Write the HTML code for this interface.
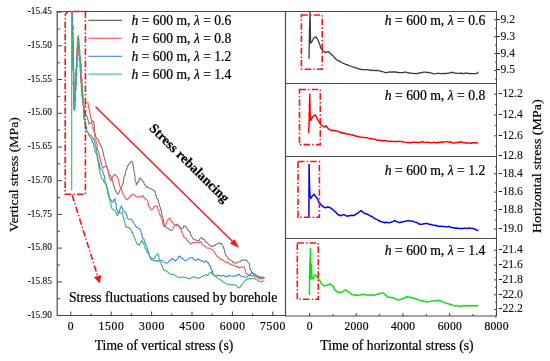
<!DOCTYPE html>
<html><head><meta charset="utf-8"><style>html,body{margin:0;padding:0;background:#fff;}svg{display:block;}</style></head><body>
<svg width="550" height="361" viewBox="0 0 550 361" font-family="Liberation Serif, serif">
<style>text{stroke:#000;stroke-width:0.22px;fill:#000}text.ty{stroke-width:0.12px;fill:#111}text.tx{stroke-width:0.2px}</style>
<rect width="550" height="361" fill="#fff"/>
<path d="M57.2 11.5 H285.5 M57.2 11 V316 M57 315.5 H285.5 M285.5 11.5 V316" fill="none" stroke="#4a4a4a" stroke-width="1.2"/>
<rect x="285.5" y="11.5" width="211.0" height="72.0" fill="none" stroke="#4a4a4a" stroke-width="1"/>
<rect x="285.5" y="83.5" width="211.0" height="73.0" fill="none" stroke="#4a4a4a" stroke-width="1"/>
<rect x="285.5" y="156.5" width="211.0" height="82.0" fill="none" stroke="#4a4a4a" stroke-width="1"/>
<rect x="285.5" y="238.5" width="211.0" height="77.5" fill="none" stroke="#4a4a4a" stroke-width="1"/>
<path d="M57.5 12.1h4.5 M57.5 29.0h2.5 M57.5 45.8h4.5 M57.5 62.7h2.5 M57.5 79.5h4.5 M57.5 96.4h2.5 M57.5 113.3h4.5 M57.5 130.1h2.5 M57.5 147.0h4.5 M57.5 163.8h2.5 M57.5 180.7h4.5 M57.5 197.6h2.5 M57.5 214.4h4.5 M57.5 231.3h2.5 M57.5 248.1h4.5 M57.5 265.0h2.5 M57.5 281.9h4.5 M57.5 298.7h2.5 M57.5 315.6h4.5 M70.8 315.5v-4 M91.0 315.5v-2 M111.2 315.5v-4 M131.4 315.5v-2 M151.6 315.5v-4 M171.8 315.5v-2 M192.0 315.5v-4 M212.2 315.5v-2 M232.4 315.5v-4 M252.6 315.5v-2 M272.8 315.5v-4 M309.6 316v-3 M332.9 316v-2 M356.3 316v-3 M379.6 316v-2 M402.9 316v-3 M426.3 316v-2 M449.6 316v-3 M472.9 316v-2 M496.3 316v-3 M496.5 19.8h-2.5 M496.5 28.3h-1.5 M496.5 36.8h-2.5 M496.5 45.2h-1.5 M496.5 53.7h-2.5 M496.5 62.2h-1.5 M496.5 70.6h-2.5 M496.5 79.1h-1.5 M496.5 94.3h-2.5 M496.5 104.7h-1.5 M496.5 115.0h-2.5 M496.5 125.4h-1.5 M496.5 135.8h-2.5 M496.5 146.2h-1.5 M496.5 156.6h-2.5 M496.5 166.9h-1.5 M496.5 173.8h-2.5 M496.5 183.0h-1.5 M496.5 192.2h-2.5 M496.5 201.4h-1.5 M496.5 210.6h-2.5 M496.5 219.8h-1.5 M496.5 229.0h-2.5 M496.5 238.2h-1.5 M496.5 250.2h-2.5 M496.5 257.6h-1.5 M496.5 265.1h-2.5 M496.5 272.5h-1.5 M496.5 279.9h-2.5 M496.5 287.3h-1.5 M496.5 294.8h-2.5 M496.5 302.2h-1.5 M496.5 309.6h-2.5 M496.5 317.0h-1.5" stroke="#444" stroke-width="1" fill="none"/>
<defs><clipPath id="cl"><rect x="57.5" y="11.5" width="228" height="304"/></clipPath><clipPath id="c1"><rect x="285.5" y="11.5" width="211" height="72"/></clipPath></defs>
<g fill="none" stroke-linejoin="round" stroke-linecap="round" clip-path="url(#cl)">
<path d="M72.2 11.5 72.6 14.2 71.9 14.4 72.6 17.7 72.2 19.3 72.5 21.0 72.2 22.8 72.4 24.4 73.0 26.8 72.7 29.1 72.5 30.1 72.3 31.2 72.6 33.8 73.2 35.5 72.9 37.7 72.5 39.0 72.6 41.0 73.4 43.2 72.7 45.4 73.3 47.7 73.5 49.2 73.4 51.1 73.6 52.3 73.0 55.2 73.5 56.7 73.4 58.1 73.4 60.0 74.1 100.0 74.5 110.0 75.0 108.1 75.0 106.3 75.1 104.1 74.8 103.2 75.3 100.8 75.0 99.2 75.0 96.4 74.9 95.4 75.1 93.9 75.3 92.1 75.7 90.3 75.6 87.6 75.8 86.0 75.5 83.5 76.3 82.0 75.6 80.3 76.3 78.8 75.9 77.1 75.9 75.0 76.1 72.9 76.8 70.3 76.6 68.2 76.4 67.7 77.1 64.7 77.0 63.2 76.8 60.6 77.2 59.0 77.5 57.0 77.4 55.0 77.1 53.1 77.1 52.7 77.6 49.7 77.1 48.2 77.3 47.4 77.6 43.8 78.0 43.0 77.8 40.2 78.0 38.2 78.3 37.6 78.2 35.3 78.6 37.8 78.7 39.5 78.4 40.5 78.6 42.6 78.9 43.4 78.7 46.6 79.1 47.8 79.0 49.4 79.3 52.0 79.6 53.1 79.8 53.8 79.5 55.8 79.8 57.4 80.2 60.0 80.4 61.1 80.9 63.8 81.0 66.4 80.7 67.0 80.9 68.9 81.2 71.5 80.9 73.5 81.2 74.9 80.9 76.0 81.1 78.6 81.3 81.0 81.4 81.8 81.6 83.9 81.9 86.3 82.2 87.8 82.2 90.0 82.7 91.3 82.7 94.4 82.7 95.3 82.4 97.3 83.0 98.9 82.8 100.2 83.2 103.1 83.9 104.4 83.5 106.4 83.8 108.0 83.9 110.4 84.5 110.1 84.4 111.8 84.8 114.0 85.8 115.5 86.5 115.8 87.0 116.3 87.5 118.4 88.0 120.0 88.4 120.8 88.5 121.9 89.0 124.0 90.6 123.0 92.2 121.7 93.1 120.8 93.7 121.4 94.0 123.0 94.3 125.0 94.8 133.0 95.3 134.5 95.8 136.8 96.5 138.0 97.0 138.8 98.5 140.2 99.0 142.4 100.2 144.0 100.2 145.5 101.4 146.5 102.2 148.5 102.5 150.0 102.9 152.1 103.3 153.0 103.5 155.5 104.1 156.6 104.5 158.3 105.2 160.8 105.7 162.4 105.8 163.3 106.1 164.6 106.7 166.6 107.5 168.3 108.1 169.8 108.4 172.4 108.3 173.8 109.1 174.9 110.4 175.5 110.8 176.6 111.3 177.3 111.5 178.6 112.4 180.7 113.3 182.9 112.9 183.9 113.4 184.7 114.1 186.5 114.8 188.5 115.3 189.7 115.8 191.5 116.6 192.1 117.4 194.0 118.5 194.0 119.1 192.4 119.9 190.0 120.7 189.0 121.0 188.0 121.8 187.0 122.4 184.9 122.7 183.6 123.5 182.4 123.4 180.0 124.1 178.2 124.1 176.4 125.2 175.1 125.3 172.7 125.7 171.6 126.0 170.1 126.9 169.1 127.0 167.6 127.4 165.8 128.1 165.6 129.1 163.8 130.0 163.2 130.7 161.8 131.8 161.2 132.6 162.5 133.1 164.4 133.2 164.9 133.4 166.7 133.5 168.3 133.9 170.8 133.9 170.7 134.5 173.6 134.7 175.2 135.1 175.7 134.9 178.2 135.3 180.3 135.9 182.3 136.2 182.5 136.2 184.9 136.8 184.1 137.9 182.4 138.5 181.4 139.2 179.0 139.5 178.2 140.6 178.4 141.5 179.9 142.3 180.6 143.5 181.6 144.1 183.4 144.8 184.9 146.1 185.7 146.5 187.5 147.3 187.0 149.0 188.0 150.6 188.5 151.5 189.0 152.6 189.8 153.3 190.0 154.3 190.8 155.0 191.6 155.2 193.0 155.4 195.0 156.4 195.9 156.6 198.3 157.7 198.9 158.3 200.7 158.6 202.7 159.4 204.0 159.2 205.8 160.0 206.6 160.3 207.4 160.6 209.4 161.3 210.1 161.6 212.4 161.8 214.9 162.1 215.8 162.9 217.2 162.9 219.0 163.4 220.3 163.7 222.3 164.1 224.0 164.6 226.0 165.8 226.5 166.4 227.9 167.4 228.2 169.1 229.0 170.2 230.1 170.7 230.6 172.4 229.8 173.2 228.4 174.1 226.5 174.5 226.3 175.7 224.8 177.4 224.0 178.2 225.1 179.1 225.7 180.2 227.4 180.7 229.0 182.4 228.2 183.3 227.5 184.0 225.7 185.7 226.5 186.3 227.4 187.4 229.0 188.0 230.2 189.0 231.5 190.0 232.3 190.4 233.1 190.7 235.0 191.6 236.2 192.3 237.5 193.7 239.3 194.8 239.7 196.3 240.1 197.9 240.7 199.3 240.3 200.0 238.4 201.1 237.8 201.9 237.4 202.7 239.2 203.9 239.4 204.6 240.1 205.8 242.3 207.3 242.7 208.3 244.0 209.7 245.2 210.8 246.1 212.4 246.4 213.6 246.2 215.3 245.0 216.5 244.2 218.3 243.3 219.4 242.9 220.4 243.9 221.3 243.3 222.4 244.9 222.9 246.3 223.3 247.1 224.2 249.5 224.7 251.0 224.8 251.8 225.2 253.9 226.0 255.7 227.1 256.8 227.8 257.6 228.9 259.6 230.0 259.7 231.3 260.6 232.3 261.1 232.9 262.6 234.0 262.4 235.9 263.6 237.2 262.4 238.8 261.7 240.6 261.5 241.7 259.7 243.1 260.2 244.6 259.7 245.8 260.3 247.5 260.7 248.0 262.6 248.9 262.9 249.4 264.6 249.6 265.4 249.7 268.3 250.2 268.3 250.8 270.4 251.3 271.1 251.9 272.7 253.0 273.3 254.3 274.7 255.5 275.0 257.2 276.2 258.5 276.9 260.1 277.2 261.8 277.2 263.0 277.6 264.0 278.1" stroke="#777" stroke-width="1.1"/>
<path d="M72.2 11.5 72.3 12.9 72.4 15.0 71.9 17.3 72.7 18.1 72.2 20.4 72.4 23.6 72.4 25.2 72.2 26.7 72.9 28.5 72.8 30.2 72.2 32.3 72.7 34.3 72.3 35.4 72.7 38.3 73.1 39.9 73.2 41.7 73.1 43.0 73.3 45.0 72.6 47.6 72.7 48.2 73.0 51.5 72.9 52.8 73.0 54.4 73.2 56.0 73.5 58.3 73.2 60.0 73.8 100.0 74.1 109.0 74.6 107.4 74.7 105.9 74.1 103.7 74.9 102.1 74.7 100.3 74.4 98.1 74.9 96.4 74.5 93.6 75.4 92.7 75.4 89.4 74.9 88.1 75.5 86.1 75.0 85.2 75.1 82.9 75.4 81.2 76.1 79.6 76.2 77.0 75.5 74.8 75.6 73.4 76.0 70.8 75.9 69.7 76.6 66.8 76.8 65.4 76.4 64.6 76.6 61.9 76.8 60.3 76.9 58.3 76.9 57.1 77.2 54.3 76.9 52.1 77.2 51.5 76.9 48.9 77.5 46.8 77.6 44.2 77.2 43.4 77.7 41.5 77.7 39.7 77.9 37.5 78.3 39.8 77.8 40.4 78.8 43.5 78.4 44.6 78.5 47.1 78.6 48.6 79.0 50.5 79.0 52.2 78.8 55.0 79.6 56.5 79.3 57.9 79.4 60.7 79.8 62.0 79.9 63.3 79.7 66.1 80.0 67.3 80.2 70.1 80.1 72.0 80.7 73.0 80.6 75.8 80.5 76.5 80.6 78.9 81.4 81.3 81.0 82.1 81.4 85.1 81.3 86.9 81.4 87.6 81.5 90.7 81.8 92.0 81.9 93.5 82.1 95.4 82.1 98.0 82.9 98.1 83.2 101.4 83.3 102.4 82.9 105.0 83.3 106.0 84.2 107.4 84.5 108.0 85.0 106.9 85.4 104.9 85.6 103.4 86.5 102.5 88.2 103.3 88.3 105.1 88.3 107.2 89.2 109.0 89.6 110.7 89.6 112.4 89.8 113.3 90.4 114.1 90.3 116.0 90.8 118.6 91.6 119.8 91.5 121.6 91.8 123.7 92.6 124.9 93.0 127.1 93.1 129.0 93.2 130.2 94.1 132.1 94.4 132.9 94.7 135.8 94.8 136.5 94.8 138.8 96.0 140.1 95.9 140.7 96.5 143.2 96.9 144.6 97.3 146.7 97.3 149.2 98.1 150.5 98.2 150.9 99.0 153.0 98.9 154.1 100.0 157.4 100.0 158.3 100.4 159.2 100.6 161.3 101.3 163.1 101.6 165.0 102.3 166.8 103.3 168.3 104.1 166.9 105.3 166.6 106.6 165.8 107.1 166.6 107.3 169.1 107.6 169.4 108.3 171.6 108.7 173.0 108.8 175.4 109.4 177.1 109.6 178.2 110.1 179.3 110.8 180.7 111.8 179.0 112.4 177.4 113.4 175.9 114.1 174.6 115.8 174.9 116.4 176.1 117.4 177.4 118.0 178.9 118.2 179.5 119.0 181.6 119.1 183.2 119.4 185.4 120.2 186.8 120.3 187.1 120.7 189.0 121.5 189.5 122.2 191.6 122.4 192.4 123.4 194.6 124.1 195.7 125.0 197.8 125.7 199.0 127.4 199.8 128.3 198.3 129.1 198.2 129.6 196.5 130.7 196.5 131.1 195.7 132.4 194.0 134.0 194.5 134.5 194.8 135.7 196.5 137.4 197.3 139.0 196.5 140.7 197.3 141.2 197.2 142.3 195.7 143.5 196.1 144.0 198.2 145.2 198.2 145.7 199.5 147.3 200.0 147.9 201.6 148.0 203.5 148.3 204.0 148.4 205.7 149.4 206.7 150.0 207.4 150.4 209.0 151.6 209.9 152.8 209.5 153.3 208.2 154.0 206.6 155.0 206.6 156.6 205.7 157.5 207.2 157.4 208.0 158.3 209.9 159.0 211.1 159.3 213.7 160.0 214.9 160.7 216.3 161.6 218.2 162.0 219.6 162.5 220.7 162.8 224.0 163.3 224.8 163.8 226.1 164.9 226.5 165.7 225.4 166.0 224.0 166.6 222.3 167.6 220.6 168.3 219.0 170.0 218.2 170.5 220.6 171.6 221.5 172.6 221.6 173.2 223.2 174.1 224.7 174.9 224.8 175.9 225.1 176.6 225.7 178.2 225.7 178.8 226.4 179.9 228.2 180.8 228.9 181.5 230.6 181.7 232.0 182.4 234.0 183.6 235.9 184.0 237.1 185.1 237.7 186.2 238.8 186.8 239.9 187.6 241.1 188.4 241.4 189.8 242.9 190.9 244.0 192.2 242.9 193.9 242.7 195.1 242.6 196.9 242.0 198.0 242.6 199.3 242.6 200.0 241.3 201.3 242.5 202.0 244.5 202.9 245.2 204.5 246.1 205.8 247.1 207.0 248.1 208.8 248.2 209.7 248.1 210.8 249.0 212.5 249.6 213.6 251.0 215.0 252.8 215.3 254.5 216.2 254.8 217.4 256.8 218.9 257.2 220.4 259.4 221.3 259.7 222.9 259.9 223.8 260.7 225.2 261.7 226.1 262.7 228.1 262.2 229.1 263.6 230.2 263.9 231.8 265.0 232.9 265.5 234.1 265.1 235.5 266.3 236.8 266.9 238.2 266.6 239.3 268.1 240.7 267.5 241.8 267.1 243.6 266.5 244.4 267.7 245.2 269.1 245.5 271.4 246.1 273.6 247.5 274.3 248.8 275.5 250.4 275.2 251.9 276.0 253.2 275.5 254.3 276.2 255.8 277.0 257.1 276.8 258.1 277.8 259.6 278.9 260.4 278.3 262.0 278.5 262.9 278.3 264.0 278.1" stroke="#ff5c5c" stroke-width="1.2"/>
<path d="M72.3 68.0 72.3 11.5 72.0 12.9 72.1 15.0 72.3 16.3 72.8 19.7 72.3 21.3 72.4 22.8 72.3 24.0 73.1 25.9 73.0 28.9 72.5 30.7 72.9 31.7 73.2 34.3 72.5 36.4 73.1 37.8 72.7 39.5 72.7 41.3 73.4 44.0 73.0 45.2 73.2 47.7 73.5 49.5 73.2 50.7 73.3 52.7 73.2 53.8 73.0 56.8 73.6 57.3 73.5 60.0 74.0 100.0 74.3 110.0 74.4 107.7 74.4 106.2 74.3 105.3 74.5 102.3 74.6 100.8 75.2 98.5 75.1 96.5 74.8 95.7 75.0 92.3 75.5 91.7 75.3 88.8 75.5 86.8 75.8 84.7 76.2 84.4 76.3 82.2 75.8 79.0 76.3 78.9 76.6 76.0 76.6 74.5 76.1 72.0 76.2 70.4 77.0 68.4 76.3 66.4 76.5 64.0 76.8 63.5 76.7 60.7 77.1 60.1 76.9 56.8 77.1 54.6 77.1 53.9 77.6 50.8 78.1 49.3 77.8 47.2 77.8 46.5 78.0 45.0 78.0 41.8 78.1 39.5 78.3 38.5 78.8 39.9 78.6 42.7 78.5 43.1 78.7 45.3 79.4 47.1 78.8 48.7 79.4 51.9 79.4 53.8 79.8 55.5 80.1 57.1 79.6 58.4 80.5 59.7 80.3 62.0 80.8 64.6 80.7 65.5 80.8 68.2 80.8 70.1 81.1 71.7 81.4 72.8 80.8 75.9 81.7 77.8 81.0 79.2 81.2 81.5 81.8 83.5 81.5 83.7 82.0 86.6 82.4 88.7 81.7 89.6 82.3 92.0 82.0 94.5 82.2 96.2 83.0 97.9 82.9 99.8 82.8 101.6 83.0 103.0 83.6 105.1 83.5 106.2 83.6 108.0 84.0 118.0 83.9 118.5 84.7 120.8 85.0 122.0 85.5 124.3 85.6 124.5 86.2 127.3 86.8 127.5 86.5 130.6 87.3 131.6 88.0 132.9 89.0 134.0 89.6 136.2 90.6 137.4 91.4 138.5 92.2 140.5 92.4 142.8 93.4 142.8 93.8 145.0 94.3 147.4 95.1 148.2 94.9 150.5 95.5 152.3 96.3 153.3 97.1 154.6 97.6 156.5 98.1 157.7 98.0 159.4 98.8 161.6 99.0 163.1 99.8 164.7 99.4 166.5 100.2 167.3 100.5 169.1 102.1 169.9 102.9 171.5 102.9 173.2 103.8 174.9 104.4 175.9 104.7 177.6 104.9 180.3 105.2 181.2 105.4 182.4 106.2 183.9 106.6 186.0 107.0 187.6 107.1 189.8 107.6 192.0 107.6 193.0 108.3 195.3 108.8 196.5 109.3 198.3 110.5 199.5 111.0 200.1 112.2 202.2 112.8 201.6 113.9 200.5 114.9 198.6 115.1 200.5 115.1 202.4 116.2 203.8 116.2 205.2 116.2 207.3 116.7 209.4 116.9 209.7 118.2 212.6 118.5 213.0 119.3 212.1 119.3 210.9 120.1 208.8 121.1 207.4 121.2 205.8 122.2 207.8 122.5 208.1 123.0 210.3 124.1 211.5 125.1 212.3 125.7 213.0 126.7 214.4 127.0 216.4 127.5 218.4 128.9 219.4 130.0 219.0 130.8 219.3 132.0 220.2 133.0 221.4 134.2 224.1 134.7 224.7 135.5 225.4 136.3 227.1 137.4 227.4 138.3 228.1 140.1 229.2 140.7 230.4 141.3 233.1 142.1 234.4 142.0 236.6 142.8 238.2 143.9 238.8 144.5 241.8 144.7 242.4 145.5 243.6 145.9 244.7 147.1 246.7 147.3 249.0 148.0 251.2 147.9 251.4 149.0 253.1 149.2 254.4 149.4 256.5 150.4 258.0 151.1 259.7 152.2 260.0 153.2 260.5 154.9 261.0 155.9 260.5 157.7 261.5 158.8 260.7 160.5 260.5 162.4 260.5 163.5 262.0 165.4 262.3 166.6 263.3 167.8 262.7 168.9 261.7 169.5 260.5 171.0 260.1 172.1 258.3 173.4 259.3 174.4 260.5 175.5 261.0 176.3 259.8 177.7 259.2 178.6 256.5 180.0 256.1 180.9 257.9 182.4 258.1 183.3 259.4 184.8 260.6 186.6 260.5 188.0 259.4 189.9 257.8 191.1 257.7 192.6 257.6 193.0 258.6 194.4 260.0 196.2 260.4 197.4 259.1 198.8 259.4 199.8 260.0 200.5 260.7 202.0 260.6 202.9 261.7 204.5 262.1 205.8 260.7 207.2 262.4 208.0 262.4 208.7 263.6 209.5 265.7 210.3 265.8 210.7 268.7 211.6 269.4 212.7 271.4 212.6 273.0 213.6 274.7 214.5 276.2 216.1 276.3 217.4 275.2 219.2 275.4 220.3 276.2 221.7 275.9 223.3 275.2 225.1 276.5 226.2 276.6 228.0 276.6 229.1 275.2 230.7 276.0 232.0 276.2 233.5 276.2 234.9 275.8 236.2 276.1 237.8 274.7 239.3 274.4 240.4 275.7 241.7 276.2 242.7 276.7 243.8 276.3 245.5 277.2 247.2 277.0 247.8 276.2 249.4 275.2 250.7 275.1 250.9 273.3 252.3 272.3 253.9 273.9 255.2 274.3 256.2 275.5 258.1 276.2 259.1 277.1 261.0 277.2 262.2 277.2 264.0 277.2" stroke="#3f84e0" stroke-width="1.1"/>
<path d="M71.7 190.0 71.7 11.5 72.2 30.0 72.6 42.0 72.9 44.1 73.1 46.2 73.1 48.0 72.7 48.5 72.9 52.0 72.5 53.8 72.6 54.9 73.0 56.8 72.7 57.7 73.4 60.1 72.7 62.8 72.7 64.7 72.8 66.2 73.5 66.9 72.9 69.2 73.6 72.4 73.7 73.0 73.5 75.3 73.7 76.5 73.8 79.3 73.2 81.5 73.1 82.4 73.1 83.8 73.6 86.0 73.7 87.3 73.6 90.0 74.0 104.0 74.3 110.5 74.2 108.4 74.5 107.4 74.6 104.6 74.3 103.4 74.4 102.1 75.3 99.8 75.3 96.6 75.3 95.4 74.9 92.9 75.8 91.4 75.7 89.5 76.0 89.0 75.6 86.1 76.1 84.6 76.2 82.0 76.4 81.4 76.6 78.1 76.1 76.4 76.8 75.4 76.9 73.1 76.5 71.6 76.4 69.4 76.5 67.1 77.4 66.3 76.7 63.5 77.2 63.1 77.0 60.2 77.7 58.7 77.4 56.6 78.0 54.0 77.7 52.1 77.5 51.7 78.4 49.7 78.3 47.7 78.1 44.9 78.6 43.1 78.3 41.5 78.5 40.0 79.0 42.7 78.8 44.4 79.2 45.3 78.9 47.0 79.0 48.7 79.9 50.4 79.7 53.2 79.6 54.2 79.7 55.2 80.4 58.2 80.4 59.2 80.5 61.7 80.5 63.0 80.9 65.1 80.9 66.4 80.8 68.0 81.1 70.7 81.5 71.7 81.3 74.1 81.4 74.8 81.6 77.1 81.9 79.2 82.0 81.4 81.9 82.7 82.2 85.2 82.4 86.3 82.3 89.0 82.7 91.0 82.4 92.0 82.6 93.8 83.0 95.0 82.8 98.1 83.2 99.5 82.8 101.3 83.3 103.2 83.3 104.7 83.8 106.4 83.7 108.0 84.5 120.0 84.9 121.9 84.7 122.4 85.4 124.8 85.6 126.1 85.7 128.2 86.1 130.1 87.1 131.5 87.8 132.4 89.0 134.9 90.0 135.0 91.5 135.7 91.9 136.5 93.1 138.4 94.0 139.9 94.5 141.6 95.2 142.3 95.1 143.4 95.6 145.7 95.8 146.7 96.5 147.9 96.5 150.0 97.3 156.0 97.1 157.4 97.4 159.4 97.9 160.9 98.7 162.5 98.5 164.0 98.7 166.4 99.2 168.3 99.1 169.3 99.8 171.6 100.0 173.3 101.0 175.6 101.1 176.4 101.4 178.4 102.5 179.1 103.4 179.8 103.8 182.0 105.0 183.2 106.2 185.1 106.6 186.3 107.5 188.2 107.7 189.3 108.2 192.2 109.1 193.8 109.1 194.5 109.2 196.5 109.7 199.1 109.9 200.0 110.3 202.9 110.7 203.5 111.1 205.0 111.3 207.6 112.0 208.4 113.4 209.9 114.0 210.3 114.9 210.8 116.2 212.6 116.5 214.9 117.6 215.7 118.2 213.9 119.4 213.0 120.6 213.4 122.1 212.1 122.5 213.9 123.1 215.5 123.1 217.3 123.9 218.4 124.1 220.5 124.5 221.7 125.0 222.9 125.2 224.8 125.7 226.5 127.1 227.4 128.4 227.4 129.1 227.5 130.6 229.1 131.1 230.1 131.8 232.4 132.7 232.4 133.2 234.7 133.8 236.4 134.6 238.3 135.5 239.5 135.7 240.9 136.5 242.7 137.1 244.2 138.6 244.1 139.2 245.4 140.2 243.3 140.5 243.1 141.5 241.0 141.9 240.0 142.2 241.9 143.1 242.4 143.7 243.6 144.1 245.0 144.9 245.9 144.9 248.5 146.1 248.9 146.4 250.8 147.4 252.7 148.4 252.6 149.5 255.7 150.0 256.2 150.8 257.5 152.1 258.6 153.6 258.9 155.0 257.7 155.6 256.0 156.3 255.3 157.7 253.8 158.6 255.1 158.9 256.4 159.1 258.6 159.5 260.6 160.5 262.0 161.1 263.0 161.5 264.7 162.7 267.3 163.2 268.9 164.3 270.5 165.8 270.6 167.4 271.7 168.8 272.8 170.1 274.4 171.6 274.5 173.1 274.2 174.5 274.8 175.7 275.9 177.5 276.6 178.6 277.4 179.9 278.0 181.3 277.3 182.9 277.1 184.0 277.3 185.1 277.8 186.7 277.7 188.2 278.6 189.3 278.6 191.1 278.1 192.3 277.3 193.9 276.8 194.8 277.0 196.5 278.0 197.6 277.9 199.2 278.2 200.6 277.3 202.3 276.5 203.6 275.5 204.8 275.9 205.8 274.6 207.6 275.6 208.7 274.3 209.3 272.8 210.8 273.2 211.6 271.4 211.9 273.2 212.8 274.2 213.6 275.2 214.9 275.7 216.5 277.2 217.8 278.4 219.4 279.1 220.5 279.8 222.3 281.0 223.9 282.6 225.2 283.0 226.4 283.9 227.8 284.3 229.1 284.0 230.4 284.5 231.5 285.0 232.9 284.9 233.8 284.5 235.1 285.0 236.8 285.9 238.2 287.6 239.7 287.8 240.3 286.8 241.7 284.9 243.0 283.5 243.6 282.5 244.6 281.0 245.5 280.3 246.8 279.1 248.4 279.1 249.6 278.5 250.7 279.1 252.3 278.1 253.5 278.2 255.2 279.1 256.5 279.4 258.1 281.0 259.5 281.0 261.0 282.0 262.9 281.0 264.0 281.6" stroke="#3cb371" stroke-width="1.1"/>
</g>
<g fill="none" stroke-linejoin="round" stroke-linecap="round">
<path clip-path="url(#c1)" d="M309.0 58.3 309.5 30.0 310.0 11.5 310.6 43.0 311.7 42.0 312.5 40.5 313.0 39.5 313.8 38.2 314.3 37.5 315.7 36.8 316.5 37.7 317.1 38.5 317.7 39.5 318.4 40.7 318.8 42.3 319.4 43.5 319.8 44.7 320.2 45.6 320.5 47.0 320.9 48.2 321.6 49.2 322.0 50.0 322.9 51.1 324.1 51.4 325.0 52.5 326.0 52.5 327.0 52.0 327.9 51.7 329.0 52.0 329.7 52.8 330.5 53.5 331.3 54.6 332.0 55.0 332.9 55.6 333.8 56.6 334.5 57.5 335.3 58.6 336.2 59.3 337.0 60.0 338.5 60.9 339.6 61.0 341.0 62.0 342.3 62.7 343.5 63.4 345.0 64.0 346.3 64.8 347.7 64.7 349.0 65.5 350.2 65.9 351.5 66.5 353.0 67.0 354.5 67.2 355.5 67.9 357.0 68.2 358.2 68.8 359.8 68.9 361.0 69.5 362.3 69.7 363.6 69.6 365.0 69.8 366.5 69.6 367.6 69.6 369.0 70.0 370.3 70.2 371.6 70.5 373.0 70.2 374.5 70.6 375.8 70.5 377.0 70.5 378.6 70.7 380.0 70.9 381.3 71.5 382.6 71.7 383.6 72.0 385.0 72.5 386.2 72.6 387.6 72.3 388.6 72.0 390.0 72.2 391.3 71.9 392.4 72.0 393.9 72.0 395.0 72.0 396.2 72.0 397.5 72.6 398.7 72.4 400.0 72.7 401.4 72.7 403.0 72.7 404.2 72.3 405.5 72.0 406.9 72.5 408.7 72.8 410.0 73.0 411.4 73.4 412.7 73.3 414.2 73.3 415.8 73.7 417.0 73.6 418.2 73.2 419.5 73.0 421.0 72.8 422.4 72.3 423.7 72.1 425.0 72.2 426.4 72.2 427.3 72.7 428.9 72.4 430.0 72.7 431.5 73.2 433.0 73.6 434.6 73.8 436.0 73.6 437.5 73.3 439.0 73.4 440.4 73.7 441.9 73.7 443.6 73.3 445.0 73.6 446.6 73.4 448.0 73.2 449.4 73.1 450.8 72.5 452.0 72.5 453.4 72.4 454.8 73.2 456.0 73.1 457.3 73.4 458.8 73.4 460.0 73.3 461.6 73.0 462.8 73.6 464.3 73.5 465.8 73.1 467.2 73.0 468.5 73.6 470.0 73.3 471.3 73.6 472.7 73.6 474.2 73.6 475.4 73.6 477.0 73.3 478.0 72.3" stroke="#3a3a3a" stroke-width="1.3"/>
<path d="M308.8 132.5 308.7 130.8 308.7 129.5 308.9 127.9 309.0 126.0 309.0 124.5 308.9 123.0 309.2 121.7 309.0 119.9 309.3 118.8 309.2 117.2 309.1 115.9 309.2 114.3 309.2 112.3 309.5 110.9 309.4 109.2 309.4 108.0 309.3 106.4 309.4 104.5 309.5 103.4 309.6 101.6 309.6 100.2 309.7 98.9 309.7 97.0 309.9 95.7 309.8 94.1 310.1 112.0 310.7 120.4 311.2 119.4 311.8 118.5 312.5 117.0 313.5 116.2 314.4 115.4 315.3 114.9 316.1 116.0 316.8 117.8 317.5 119.3 318.3 120.4 319.1 121.8 319.8 123.0 320.8 124.4 321.4 125.4 322.5 125.9 323.5 126.2 324.4 127.0 325.6 126.5 326.4 125.8 327.0 127.1 327.8 127.9 328.4 129.0 329.4 129.2 330.3 129.8 331.5 130.5 332.8 130.3 333.9 130.5 335.4 130.8 336.5 131.0 337.8 131.2 339.4 132.0 340.6 132.5 342.0 133.0 343.1 132.8 344.5 133.2 345.6 133.5 346.8 134.2 348.2 133.9 349.6 134.3 350.9 134.9 352.3 134.8 353.7 135.5 355.1 135.7 356.5 136.4 357.8 136.3 358.9 136.7 360.5 137.1 361.8 137.1 363.2 137.6 364.4 137.5 365.8 137.6 367.0 137.8 368.3 138.1 369.8 138.6 371.0 138.8 372.4 138.8 373.9 139.1 375.4 139.3 376.5 140.0 378.0 140.2 379.2 140.1 380.4 140.3 381.9 140.7 383.0 140.5 384.4 140.7 385.7 140.6 387.1 140.9 388.5 141.5 390.0 141.4 391.6 141.1 392.7 141.4 394.1 141.4 395.9 141.4 397.2 141.7 398.5 141.2 400.0 141.4 401.6 141.5 403.0 142.0 404.3 142.1 405.4 142.1 406.9 142.6 408.0 142.5 409.5 142.7 410.9 142.7 412.3 142.3 413.5 142.4 415.1 142.2 416.6 142.3 418.0 142.5 419.3 142.5 420.8 142.1 422.0 141.5 423.5 142.3 425.0 142.4 426.4 142.2 427.9 142.2 429.6 142.5 431.0 142.7 432.6 142.6 434.1 142.2 435.6 142.8 437.0 142.7 438.6 142.3 440.0 142.5 441.6 142.0 443.0 141.8 444.3 142.1 445.8 141.6 447.0 141.6 448.4 142.0 450.0 142.0 451.4 142.2 453.0 143.0 454.4 143.1 455.8 142.4 457.0 142.5 458.6 142.5 460.0 141.8 461.5 142.0 463.0 142.5 464.2 142.4 465.7 143.2 467.0 143.0 468.7 143.0 470.1 143.0 471.4 143.2 472.9 142.8 474.5 142.8 476.0 142.8 477.5 143.0" stroke="#ff0000" stroke-width="1.45"/>
<path d="M308.9 216.2 309.1 164.6 309.5 185.0 310.0 196.0 310.6 197.1 310.8 198.5 311.4 197.4 311.8 196.9 312.5 195.7 313.2 195.4 314.1 194.2 315.0 195.6 315.9 196.7 316.8 198.0 317.5 198.9 317.9 200.0 318.4 201.1 319.1 202.6 320.1 203.5 320.7 204.5 321.8 205.4 322.5 206.5 323.5 206.6 324.6 207.3 325.5 207.8 326.9 207.3 328.2 207.1 329.4 207.4 330.5 207.8 331.7 209.0 332.6 209.3 333.9 210.5 334.7 211.7 335.8 212.0 336.5 213.2 337.3 214.0 338.4 214.9 339.7 215.1 340.7 215.8 341.9 215.1 343.0 214.7 344.1 214.6 345.4 215.3 346.4 215.9 347.5 216.2 348.5 215.8 349.8 215.8 350.9 215.5 352.2 215.2 353.2 215.5 354.3 215.5 355.3 214.6 356.5 213.7 357.7 213.3 358.8 212.2 360.1 211.3 361.1 210.5 362.1 211.7 363.2 212.3 364.5 213.3 365.8 213.9 366.9 214.0 367.8 214.5 369.1 215.1 370.2 216.0 371.3 216.2 372.4 216.9 373.6 217.8 374.7 218.4 375.8 219.1 376.9 219.4 378.2 220.3 379.1 220.6 380.0 221.4 381.3 221.6 382.5 222.0 383.6 222.3 384.8 222.8 386.2 222.2 387.8 222.6 389.1 222.8 390.4 222.4 391.6 222.0 393.0 221.3 394.5 220.5 395.7 221.3 397.3 221.9 398.7 222.4 400.0 222.6 401.6 222.0 402.8 221.8 404.4 221.6 405.7 221.1 407.3 220.8 408.9 220.7 410.3 221.1 412.1 221.2 413.6 221.4 414.9 222.1 416.1 222.5 417.3 222.9 418.6 223.7 420.0 224.3 421.5 224.3 422.8 224.1 424.4 223.7 426.0 223.4 427.3 223.5 428.7 224.1 429.9 224.4 431.4 224.4 432.7 225.0 434.2 225.4 435.7 225.2 437.2 226.1 438.7 226.3 440.0 226.3 441.3 226.2 442.9 226.6 444.3 226.6 445.5 226.8 446.7 226.9 448.1 226.6 449.1 226.3 450.2 227.0 451.4 227.5 452.7 227.7 454.2 227.8 455.4 228.2 456.9 228.0 458.2 228.3 459.9 228.5 461.5 228.6 463.0 228.5 464.5 228.2 466.1 228.3 467.6 228.5 469.4 228.0 470.9 228.3 472.1 228.4 473.4 228.5 474.5 229.0 475.5 229.3 476.7 230.2 477.8 230.5" stroke="#0000ff" stroke-width="1.5"/>
<path d="M309.4 294.6 309.6 273.6 309.6 272.0 309.8 270.2 309.8 268.5 309.7 267.6 309.9 265.8 309.9 263.8 310.0 262.7 309.9 261.2 310.0 259.2 310.3 257.9 310.3 256.3 310.4 254.6 310.3 252.8 310.5 251.7 310.3 249.9 310.5 248.4 310.9 279.0 311.4 264.0 312.0 278.0 313.1 279.0 313.7 277.4 314.6 276.0 315.2 274.7 316.4 275.6 317.4 276.9 318.0 278.5 319.0 279.5 319.8 280.6 320.6 282.3 321.3 283.5 322.1 284.2 323.2 285.1 323.9 286.0 324.8 285.6 326.0 285.4 327.1 285.5 328.1 284.6 329.4 284.4 330.4 283.8 331.2 284.5 332.0 285.4 333.0 286.0 333.6 287.5 334.6 288.9 335.1 290.3 336.1 290.7 336.8 291.8 337.9 292.4 339.3 292.1 340.2 292.5 341.6 292.0 342.8 291.6 343.8 290.7 344.8 290.0 345.9 289.8 346.9 290.7 347.6 291.5 348.7 292.0 349.9 292.8 350.9 293.8 352.0 294.6 353.5 294.7 354.4 294.9 355.8 295.2 357.0 295.0 358.4 295.2 359.6 295.0 361.0 294.7 362.4 294.6 363.7 294.4 364.9 294.6 366.3 294.9 367.7 294.9 369.2 295.1 370.9 294.8 372.1 295.0 373.6 295.2 374.9 295.1 376.2 294.6 377.6 294.3 379.0 293.7 380.7 293.2 382.2 293.1 383.6 293.1 384.6 294.4 385.3 294.7 386.3 295.7 387.3 296.9 388.8 297.2 389.9 297.2 391.2 297.6 392.7 297.8 394.1 298.1 395.3 299.0 396.9 299.4 398.2 300.0 399.7 299.7 401.1 299.3 402.7 298.5 403.9 298.2 405.0 297.9 406.0 296.9 407.3 296.7 408.5 297.0 409.9 297.3 411.3 297.7 412.7 297.8 414.0 298.0 415.6 298.8 417.0 299.3 418.7 299.9 420.0 300.5 421.5 300.7 422.9 300.6 424.1 301.4 425.5 301.4 426.7 301.9 428.2 301.8 429.7 301.6 431.3 301.1 432.7 300.9 433.9 300.9 435.4 300.8 436.9 300.5 438.2 300.4 439.6 300.5 441.0 301.2 442.4 301.6 443.6 302.2 445.0 302.8 446.2 303.4 447.8 303.6 449.1 304.0 450.4 304.6 451.7 304.6 453.0 305.4 454.5 305.8 455.8 305.6 457.3 306.1 458.7 305.9 460.0 306.4 461.5 306.1 462.9 305.6 464.3 305.8 465.5 305.5 467.0 306.0 468.1 305.5 469.6 305.7 470.9 306.0 472.2 305.7 473.5 305.5 475.2 306.0 476.5 305.5 477.8 305.5" stroke="#11dd11" stroke-width="1.5"/>
</g>
<path d="M67.5 11.5 L65.2 15 V194.2 H85.4 V11.5 Z" stroke="#ff1010" stroke-width="1.6" fill="none" stroke-dasharray="6.5 2.2 1.4 2.2" stroke-dashoffset="1.6"/>
<rect x="301.4" y="15" width="20.8" height="54.2" stroke="#ff1010" stroke-width="1.6" fill="none" stroke-dasharray="6.5 2.2 1.4 2.2"/>
<rect x="299.5" y="89.5" width="20.8" height="55.1" stroke="#ff1010" stroke-width="1.6" fill="none" stroke-dasharray="6.5 2.2 1.4 2.2"/>
<rect x="298" y="161.5" width="21.4" height="55.7" stroke="#ff1010" stroke-width="1.6" fill="none" stroke-dasharray="6.5 2.2 1.4 2.2"/>
<rect x="297.3" y="243" width="21.0" height="56.3" stroke="#ff1010" stroke-width="1.6" fill="none" stroke-dasharray="6.5 2.2 1.4 2.2"/>
<line x1="95.5" y1="106.8" x2="232.6" y2="241.5" stroke="#ff1a1a" stroke-width="1.5"/>
<polygon points="239,247.8 229.8,243.4 234.6,239.2" fill="#ff1010"/>
<line x1="72" y1="194.5" x2="97.6" y2="276" stroke="#ff1010" stroke-width="1.6" fill="none" stroke-dasharray="6.5 2.2 1.4 2.2" stroke-dashoffset="11.8"/>
<polygon points="99.8,283.6 93.8,277.2 101.3,274.9" fill="#ff1010"/>
<g fill="#222"><text class="ty" x="52" y="14.3" text-anchor="end" font-size="9.8" transform="translate(52 0) scale(0.96 1) translate(-52 0)">-15.45</text>
<text class="ty" x="52" y="48.0" text-anchor="end" font-size="9.8" transform="translate(52 0) scale(0.96 1) translate(-52 0)">-15.50</text>
<text class="ty" x="52" y="81.7" text-anchor="end" font-size="9.8" transform="translate(52 0) scale(0.96 1) translate(-52 0)">-15.55</text>
<text class="ty" x="52" y="115.5" text-anchor="end" font-size="9.8" transform="translate(52 0) scale(0.96 1) translate(-52 0)">-15.60</text>
<text class="ty" x="52" y="149.2" text-anchor="end" font-size="9.8" transform="translate(52 0) scale(0.96 1) translate(-52 0)">-15.65</text>
<text class="ty" x="52" y="182.9" text-anchor="end" font-size="9.8" transform="translate(52 0) scale(0.96 1) translate(-52 0)">-15.70</text>
<text class="ty" x="52" y="216.6" text-anchor="end" font-size="9.8" transform="translate(52 0) scale(0.96 1) translate(-52 0)">-15.75</text>
<text class="ty" x="52" y="250.3" text-anchor="end" font-size="9.8" transform="translate(52 0) scale(0.96 1) translate(-52 0)">-15.80</text>
<text class="ty" x="52" y="284.1" text-anchor="end" font-size="9.8" transform="translate(52 0) scale(0.96 1) translate(-52 0)">-15.85</text>
<text class="ty" x="52" y="317.8" text-anchor="end" font-size="9.8" transform="translate(52 0) scale(0.96 1) translate(-52 0)">-15.90</text>
<text class="tx" x="71.1" y="329.6" text-anchor="middle" font-size="11.6" letter-spacing="0.7">0</text>
<text class="tx" x="111.5" y="329.6" text-anchor="middle" font-size="11.6" letter-spacing="0.7">1500</text>
<text class="tx" x="151.9" y="329.6" text-anchor="middle" font-size="11.6" letter-spacing="0.7">3000</text>
<text class="tx" x="192.3" y="329.6" text-anchor="middle" font-size="11.6" letter-spacing="0.7">4500</text>
<text class="tx" x="232.7" y="329.6" text-anchor="middle" font-size="11.6" letter-spacing="0.7">6000</text>
<text class="tx" x="273.1" y="329.6" text-anchor="middle" font-size="11.6" letter-spacing="0.7">7500</text>
<text class="tx" x="309.9" y="329.6" text-anchor="middle" font-size="11.6" letter-spacing="0.3">0</text>
<text class="tx" x="356.6" y="329.6" text-anchor="middle" font-size="11.6" letter-spacing="0.3">2000</text>
<text class="tx" x="403.2" y="329.6" text-anchor="middle" font-size="11.6" letter-spacing="0.3">4000</text>
<text class="tx" x="449.9" y="329.6" text-anchor="middle" font-size="11.6" letter-spacing="0.3">6000</text>
<text class="tx" x="496.6" y="329.6" text-anchor="middle" font-size="11.6" letter-spacing="0.3">8000</text>
<text class="ty" x="496.5" y="22.7" font-size="12" transform="translate(496.5 0) scale(0.975 1) translate(-496.5 0)">-9.2</text>
<text class="ty" x="496.5" y="39.6" font-size="12" transform="translate(496.5 0) scale(0.975 1) translate(-496.5 0)">-9.3</text>
<text class="ty" x="496.5" y="56.6" font-size="12" transform="translate(496.5 0) scale(0.975 1) translate(-496.5 0)">-9.4</text>
<text class="ty" x="496.5" y="73.5" font-size="12" transform="translate(496.5 0) scale(0.975 1) translate(-496.5 0)">-9.5</text>
<text class="ty" x="498.5" y="97.2" font-size="12" transform="translate(498.5 0) scale(0.975 1) translate(-498.5 0)">-12.2</text>
<text class="ty" x="498.5" y="118.0" font-size="12" transform="translate(498.5 0) scale(0.975 1) translate(-498.5 0)">-12.4</text>
<text class="ty" x="498.5" y="138.7" font-size="12" transform="translate(498.5 0) scale(0.975 1) translate(-498.5 0)">-12.6</text>
<text class="ty" x="498.5" y="159.5" font-size="12" transform="translate(498.5 0) scale(0.975 1) translate(-498.5 0)">-12.8</text>
<text class="ty" x="498.5" y="176.7" font-size="12" transform="translate(498.5 0) scale(0.975 1) translate(-498.5 0)">-18.4</text>
<text class="ty" x="498.5" y="195.1" font-size="12" transform="translate(498.5 0) scale(0.975 1) translate(-498.5 0)">-18.6</text>
<text class="ty" x="498.5" y="213.5" font-size="12" transform="translate(498.5 0) scale(0.975 1) translate(-498.5 0)">-18.8</text>
<text class="ty" x="498.5" y="231.9" font-size="12" transform="translate(498.5 0) scale(0.975 1) translate(-498.5 0)">-19.0</text>
<text class="ty" x="498.5" y="253.1" font-size="12" transform="translate(498.5 0) scale(0.975 1) translate(-498.5 0)">-21.4</text>
<text class="ty" x="498.5" y="267.9" font-size="12" transform="translate(498.5 0) scale(0.975 1) translate(-498.5 0)">-21.6</text>
<text class="ty" x="498.5" y="282.8" font-size="12" transform="translate(498.5 0) scale(0.975 1) translate(-498.5 0)">-21.8</text>
<text class="ty" x="498.5" y="297.6" font-size="12" transform="translate(498.5 0) scale(0.975 1) translate(-498.5 0)">-22.0</text>
<text class="ty" x="498.5" y="312.5" font-size="12" transform="translate(498.5 0) scale(0.975 1) translate(-498.5 0)">-22.2</text></g>
<text x="164" y="350.2" text-anchor="middle" font-size="13.6" fill="#111">Time of vertical stress (s)</text>
<text x="397" y="350.2" text-anchor="middle" font-size="13.65" fill="#111">Time of horizontal stress (s)</text>
<text transform="translate(17.9 174.6) scale(0.9 1) rotate(-90)" text-anchor="middle" font-size="13.7" fill="#111">Vertical stress (MPa)</text>
<text transform="translate(541.3 166.2) scale(0.88 1) rotate(-90)" text-anchor="middle" font-size="14" fill="#111">Horizontal stress (MPa)</text>
<line x1="88.5" y1="20.4" x2="122" y2="20.4" stroke="#6a6a6a" stroke-width="1.2"/>
<text x="131.5" y="25.3" font-size="13.6" fill="#111"><tspan font-style="italic">h</tspan> = 600 m, <tspan font-style="italic">λ</tspan> = 0.6</text>
<line x1="88.5" y1="38.4" x2="122" y2="38.4" stroke="#ff6a6a" stroke-width="1.2"/>
<text x="131.5" y="43.3" font-size="13.6" fill="#111"><tspan font-style="italic">h</tspan> = 600 m, <tspan font-style="italic">λ</tspan> = 0.8</text>
<line x1="88.5" y1="56.3" x2="122" y2="56.3" stroke="#5a95e5" stroke-width="1.2"/>
<text x="131.5" y="61.2" font-size="13.6" fill="#111"><tspan font-style="italic">h</tspan> = 600 m, <tspan font-style="italic">λ</tspan> = 1.2</text>
<line x1="88.5" y1="74.2" x2="122" y2="74.2" stroke="#5cc08a" stroke-width="1.2"/>
<text x="131.5" y="79.1" font-size="13.6" fill="#111"><tspan font-style="italic">h</tspan> = 600 m, <tspan font-style="italic">λ</tspan> = 1.4</text>
<text x="485.3" y="25.1" text-anchor="end" font-size="13.7" fill="#111"><tspan font-style="italic">h</tspan> = 600 m, <tspan font-style="italic">λ</tspan> = 0.6</text>
<text x="485.3" y="99.9" text-anchor="end" font-size="13.7" fill="#111"><tspan font-style="italic">h</tspan> = 600 m, <tspan font-style="italic">λ</tspan> = 0.8</text>
<text x="485.3" y="174.5" text-anchor="end" font-size="13.7" fill="#111"><tspan font-style="italic">h</tspan> = 600 m, <tspan font-style="italic">λ</tspan> = 1.2</text>
<text x="485.3" y="255.1" text-anchor="end" font-size="13.7" fill="#111"><tspan font-style="italic">h</tspan> = 600 m, <tspan font-style="italic">λ</tspan> = 1.4</text>
<text x="69" y="302.2" font-size="13.6" fill="#111">Stress fluctuations caused by borehole</text>
<text transform="translate(148.6 129) rotate(44.5)" font-size="13.55" font-weight="bold" fill="#111">Stress rebalancing</text>
</svg>
</body></html>
